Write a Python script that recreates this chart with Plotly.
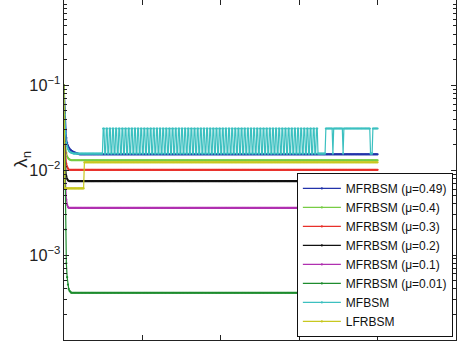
import plotly.graph_objects as go

# Iteration index (0..400)
iterations = list(range(401))

# Convergence of lambda_n for each scheme: early transient, then settled level
mu049_head = [0.1, 0.05, 0.03, 0.024, 0.021, 0.0195, 0.0185, 0.018, 0.0175, 0.0171,
              0.0168, 0.0166, 0.0164, 0.0162, 0.0161, 0.016, 0.0158, 0.0157, 0.0156, 0.0155]
mu049_level = 0.0154

mu04_head = [0.1, 0.035, 0.02, 0.016, 0.0145, 0.014, 0.0136, 0.0134, 0.0132]
mu04_level = 0.0131

mu03_head = [0.1, 0.03, 0.016, 0.012, 0.011, 0.0105, 0.0102]
mu03_level = 0.0101

mu02_head = [0.1, 0.025, 0.011, 0.0085, 0.0079, 0.0076, 0.0075]
mu02_level = 0.00743

mu01_head = [0.1, 0.02, 0.007, 0.0045, 0.0039, 0.0037]
mu01_level = 0.0036

mu001_head = [0.1, 0.012, 0.002, 0.0008, 0.00055, 0.00045, 0.0004, 0.00038, 0.00037]
mu001_level = 0.00036

# MFBSM: transient, then switching between two levels
mfbsm_head = [0.1, 0.045, 0.027, 0.021, 0.019, 0.0178, 0.017, 0.0166, 0.0163, 0.0161,
              0.016, 0.0159]
mfbsm_low = 0.0157
mfbsm_high = 0.031
mfbsm_cycle = [mfbsm_high, mfbsm_high, mfbsm_low, mfbsm_low]
# (start, end, level) segments for the tail after the regular switching
mfbsm_tail = [(325, 333, "low"), (334, 342, "high"), (343, 343, "low"),
              (344, 355, "high"), (356, 356, "low"), (357, 390, "high"),
              (391, 393, "low"), (394, 400, "high")]

# LFRBSM: drop, plateau, step up to final level
lfrbsm_head = [0.1]
lfrbsm_plateau = 0.0061
lfrbsm_plateau_end = 25
lfrbsm_level = 0.0124

n = len(iterations)


def settle(head, level):
    return head + [level] * (n - len(head))


mu049 = settle(mu049_head, mu049_level)
mu04 = settle(mu04_head, mu04_level)
mu03 = settle(mu03_head, mu03_level)
mu02 = settle(mu02_head, mu02_level)
mu01 = settle(mu01_head, mu01_level)
mu001 = settle(mu001_head, mu001_level)

mfbsm = mfbsm_head + [mfbsm_low] * (50 - len(mfbsm_head))
while len(mfbsm) < 325:
    mfbsm.append(mfbsm_cycle[(len(mfbsm) - 50) % 4])
for a, b, lev in mfbsm_tail:
    mfbsm += [mfbsm_high if lev == "high" else mfbsm_low] * (b - a + 1)

lfrbsm = lfrbsm_head + [lfrbsm_plateau] * lfrbsm_plateau_end
lfrbsm = settle(lfrbsm, lfrbsm_level)

series = [
    ("MFRBSM (\u03bc=0.49)", mu049, "#2233aa"),
    ("MFRBSM (\u03bc=0.4)", mu04, "#77cc44"),
    ("MFRBSM (\u03bc=0.3)", mu03, "#e8302a"),
    ("MFRBSM (\u03bc=0.2)", mu02, "#111111"),
    ("MFRBSM (\u03bc=0.1)", mu01, "#b030b0"),
    ("MFRBSM (\u03bc=0.01)", mu001, "#1e8c2e"),
    ("MFBSM", mfbsm, "#3cc0c0"),
    ("LFRBSM", lfrbsm, "#c8c820"),
]

fig = go.Figure()
for name, ys, color in series:
    fig.add_trace(go.Scatter(
        x=iterations, y=ys, name=name, mode="lines+markers",
        line=dict(color=color, width=1.2),
        marker=dict(color=color, size=2.2),
    ))

font_family = "Liberation Sans, Arial, sans-serif"
axis_color = "#222222"
y_range = [-4, 0.005]

fig.update_layout(
    width=474, height=342,
    margin=dict(l=64, r=18, t=0, b=2),
    paper_bgcolor="white", plot_bgcolor="white",
    font=dict(family=font_family, size=12, color=axis_color),
    showlegend=True,
    legend=dict(
        x=0.992, y=0.009, xanchor="right", yanchor="bottom",
        bgcolor="white", bordercolor="#111111", borderwidth=1,
        font=dict(size=12, color="#111111"), itemwidth=38,
        tracegroupgap=0,
    ),
    xaxis=dict(
        range=[0, 500], tickvals=[100, 200, 300, 400],
        showticklabels=False, ticks="inside", ticklen=5,
        tickcolor=axis_color, showline=True, linecolor=axis_color,
        linewidth=1, mirror="ticks", showgrid=False, zeroline=False,
    ),
    yaxis=dict(
        type="log", range=y_range, dtick=1,
        exponentformat="power", showexponent="all",
        ticks="inside", ticklen=5, tickcolor=axis_color,
        minor=dict(ticks="inside", ticklen=3, tickcolor=axis_color, showgrid=False),
        showline=True, linecolor=axis_color, linewidth=1, mirror="ticks",
        showgrid=False, zeroline=False,
        tickfont=dict(size=13, color=axis_color),
    ),
    # right-hand axis carrying the mirrored minor ticks
    yaxis2=dict(
        type="log", range=y_range, dtick=1, overlaying="y", side="right",
        showticklabels=False, ticks="inside", ticklen=5, tickcolor=axis_color,
        minor=dict(ticks="inside", ticklen=3, tickcolor=axis_color, showgrid=False),
        showline=False, showgrid=False, zeroline=False,
    ),
    annotations=[dict(
        text="\u03bb<sub>n</sub>", xref="paper", yref="paper",
        x=-0.107, y=0.53, xanchor="center", yanchor="middle",
        textangle=-90, showarrow=False,
        font=dict(size=19, color=axis_color),
    )],
)

# invisible trace so the right-hand axis is drawn
fig.add_trace(go.Scatter(x=[0], y=[0.001], yaxis="y2", mode="markers",
                         marker=dict(opacity=0), showlegend=False, hoverinfo="skip"))

fig.write_html("out.html")
